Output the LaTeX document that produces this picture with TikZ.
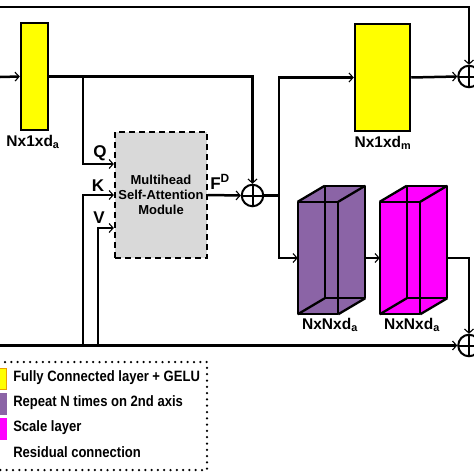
\documentclass[tikz,border=0pt]{standalone}
\usepackage{fontspec}
\setmainfont{Liberation Sans}
\newfontfamily\legfont[FakeStretch=0.87]{Liberation Sans}
\usetikzlibrary{arrows.meta,calc}
\definecolor{fcyellow}{HTML}{FFFF00}
\definecolor{reppurple}{HTML}{8B64A6}
\definecolor{scalemag}{HTML}{FF00FF}
\definecolor{mhsagray}{HTML}{D9D9D9}
\definecolor{swborder}{HTML}{E8A000}
\newcommand\drawcuboid[2]{%
  \fill[#2] (#1.south west) -- (#1.north west) -- ($(#1.north west)+(27,-16)$)
     -- ($(#1.north east)+(27,-16)$) -- ($(#1.south east)+(27,-16)$) -- (#1.south east) -- cycle;
  \draw[line width=2.3pt, line join=round] (#1.south west) rectangle (#1.north east);
  \draw[line width=2.3pt, line join=round] ($(#1.south west)+(27,-16)$) rectangle ($(#1.north east)+(27,-16)$);
  \draw[line width=2.3pt] (#1.south west) -- ++(27,-16) (#1.north west) -- ++(27,-16)
     (#1.north east) -- ++(27,-16) (#1.south east) -- ++(27,-16);
}
\begin{document}
\begin{tikzpicture}[x=1pt,y=-1pt,line width=2.5pt,
  arr/.style={-{Straight Barb[length=4pt,width=9pt,line width=1.1pt]}},
  fcbox/.style={draw, fill=fcyellow, line width=2.5pt, inner sep=0pt},
  lab/.style={font=\bfseries\fontsize{15.5}{17}\selectfont, inner sep=0pt},
  biglab/.style={font=\bfseries\fontsize{17}{19}\selectfont, inner sep=0pt},
  oplus/.style={circle, draw, line width=2pt, minimum size=21.5pt, inner sep=0pt,
    path picture={\draw[line width=2pt] (path picture bounding box.north) -- (path picture bounding box.south)
      (path picture bounding box.west) -- (path picture bounding box.east);}},
  mhsabox/.style={draw, fill=mhsagray, line width=2.5pt, dash pattern=on 6pt off 4pt,
    minimum width=90pt, minimum height=126pt, align=center,
    font=\bfseries\fontsize{13}{15}\selectfont},
  cubeface/.style={minimum width=38pt, minimum height=110pt, inner sep=0pt},
  swatch/.style={minimum width=10pt, minimum height=21pt, inner sep=0pt, line width=1pt},
  legtext/.style={font=\legfont\bfseries\fontsize{15}{17}\selectfont, anchor=west, inner sep=0pt},
  legframe/.style={line width=2.5pt, line cap=round, dash pattern=on 0pt off 6.3pt}
]
\clip (0,0) rectangle (474,474);
\fill[white] (0,0) rectangle (474,474);

% blocks
\node[fcbox, minimum width=27pt, minimum height=107pt] (fc1) at (34.5,76.5) {};
\node[fcbox, minimum width=55pt, minimum height=107pt] (fc2) at (382.5,77.5) {};
\node[mhsabox] (mhsa) at (161,195) {Multihead\\Self-Attention\\Module};
\node[oplus] (add1) at (252.5,195.5) {};
\node[oplus] (add2) at (469,76.5) {};
\node[oplus] (add3) at (469,345.5) {};
\node[cubeface] (rep) at (318,258) {};
\node[cubeface] (scale) at (400,258) {};
\drawcuboid{rep}{reppurple}
\drawcuboid{scale}{scalemag}

% labels
\node[lab] (l1) at (33,142) {Nx1xd\textsubscript{a}};
\node[lab] (l2) at (383,143) {Nx1xd\textsubscript{m}};
\node[lab] (l3) at (330,325) {NxNxd\textsubscript{a}};
\node[lab] (l4) at (412,325) {NxNxd\textsubscript{a}};
\node[biglab] (lq) at (100,153) {Q};
\node[biglab] (lk) at (98,186) {K};
\node[biglab] (lv) at (99,218) {V};
\node[biglab] (lf) at (220,182) {F\textsuperscript{D}};

% coordinates
\coordinate (inL) at (0,77);
\coordinate (topL) at (0,7);
\coordinate (botL) at (0,345.5);
\coordinate (qsplit) at (83,77);
\coordinate (ksplit) at (83,345.5);
\coordinate (vsplit) at (98,345.5);
\coordinate (split2) at (279,195.5);
\coordinate (repback) at ($(rep.east)+(27,0)$);
\coordinate (scaleback) at ($(scale.east)+(27,0)$);

% connectors
\draw[arr] (inL) -- (fc1.west);
\draw[arr] (fc1.east) -| (add1.north);
\draw[arr] (qsplit) |- ([yshift=31pt]mhsa.west);
\draw[arr] (ksplit) |- (mhsa.west);
\draw[arr] (vsplit) |- ([yshift=-33pt]mhsa.west);
\draw[arr] (mhsa.east) -- (add1.west);
\draw (add1.east) -- (split2);
\draw[arr] (split2) |- (fc2.west);
\draw[arr] (split2) |- (rep.west);
\draw[arr] (fc2.east) -- (add2.west);
\draw[arr] (topL) -| (add2.north);
\draw[arr] (repback) -- (scale.west);
\draw[arr] (scaleback) -| (add3.north);
\draw[arr] (botL) -- (add3.west);

% legend
\draw[legframe] (-5,362) rectangle (207,470);
\node[swatch, fill=fcyellow, draw=swborder] (sw1) at (1,379) {};
\node[swatch, fill=reppurple, draw=reppurple] (sw2) at (1,404) {};
\node[swatch, fill=scalemag, draw=scalemag] (sw3) at (1,429) {};
\node[legtext] (t1) at (12,378) {Fully Connected layer + GELU};
\node[legtext] (t2) at (12,403) {Repeat N times on 2nd axis};
\node[legtext] (t3) at (12,428) {Scale layer};
\node[legtext] (t4) at (12,452) {Residual connection};
\end{tikzpicture}
\end{document}
